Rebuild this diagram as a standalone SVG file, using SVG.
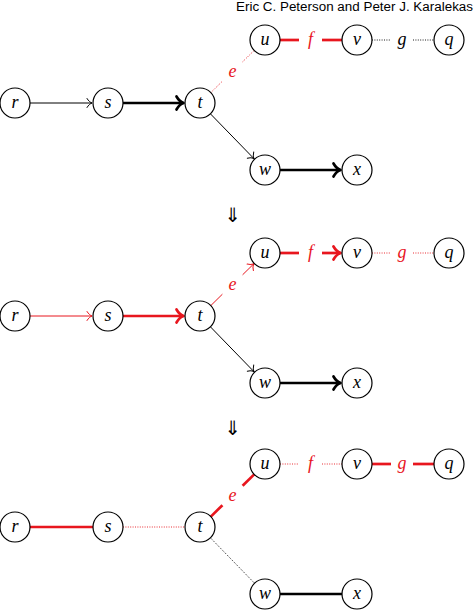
<svg xmlns="http://www.w3.org/2000/svg" width="474" height="611" viewBox="0 0 474 611">
<style>
.nd circle{fill:#fff;stroke:#000;stroke-width:1.2}
.lb{font-family:"Liberation Serif",serif;font-style:italic;font-size:18px;text-anchor:middle}
.el{font-family:"Liberation Serif",serif;font-style:italic;font-size:18px;text-anchor:middle}
.red{fill:#e8161e}
.blk{fill:#000}
.thinB{stroke:#000;stroke-width:1;fill:none}
.thickB{stroke:#000;stroke-width:2.7;fill:none}
.thinR{stroke:#e8161e;stroke-width:1;fill:none}
.thickR{stroke:#e8161e;stroke-width:2.7;fill:none}
.dotR{stroke:#e8161e;stroke-width:0.9;stroke-dasharray:1 1.4;fill:none}
.dotB{stroke:#000;stroke-width:0.9;stroke-dasharray:1 1.4;fill:none}
.dn{font-family:"DejaVu Sans",sans-serif;font-size:20px;text-anchor:middle;fill:#000}
</style>
<defs>
<marker id="aTB" markerUnits="userSpaceOnUse" orient="auto" overflow="visible" markerWidth="1" markerHeight="1" refX="0" refY="0"><path d="M -5,-4.5 C -3.5,-2 -1.5,-0.5 0,0 C -1.5,0.5 -3.5,2 -5,4.5" fill="none" stroke="#000" stroke-width="1" stroke-linecap="round"/></marker>
<marker id="aTR" markerUnits="userSpaceOnUse" orient="auto" overflow="visible" markerWidth="1" markerHeight="1" refX="0" refY="0"><path d="M -5,-4.5 C -3.5,-2 -1.5,-0.5 0,0 C -1.5,0.5 -3.5,2 -5,4.5" fill="none" stroke="#e8161e" stroke-width="1" stroke-linecap="round"/></marker>
<marker id="aKB" markerUnits="userSpaceOnUse" orient="auto" overflow="visible" markerWidth="1" markerHeight="1" refX="0" refY="0"><path d="M -7,-6.5 C -5,-3 -2,-0.7 0,0 C -2,0.7 -5,3 -7,6.5" fill="none" stroke="#000" stroke-width="2.7" stroke-linecap="round" stroke-linejoin="round"/></marker>
<marker id="aKR" markerUnits="userSpaceOnUse" orient="auto" overflow="visible" markerWidth="1" markerHeight="1" refX="0" refY="0"><path d="M -7,-6.5 C -5,-3 -2,-0.7 0,0 C -2,0.7 -5,3 -7,6.5" fill="none" stroke="#e8161e" stroke-width="2.7" stroke-linecap="round" stroke-linejoin="round"/></marker>
</defs>

<text x="473" y="11" font-family="Liberation Sans, sans-serif" font-size="12.5" text-anchor="end" textLength="237" lengthAdjust="spacingAndGlyphs">Eric C. Peterson and Peter J. Karalekas</text>

<text class="dn" x="233" y="222">⇓</text>
<text class="dn" x="233" y="435">⇓</text>

<g id="connectors">
<g id="p1-edges">
<line class="thinB" x1="30" y1="103" x2="92" y2="103" marker-end="url(#aTB)"/>
<line class="thickB" x1="123" y1="103" x2="183.5" y2="103" marker-end="url(#aKB)"/>
<line class="dotR" x1="210.8" y1="92.6" x2="222.4" y2="81.2"/>
<line class="dotR" x1="242.6" y1="61.8" x2="254.2" y2="50.4"/>
<text class="el red" x="232.5" y="77">e</text>
<line class="thickR" x1="280" y1="40" x2="299" y2="40"/>
<line class="thickR" x1="322" y1="40" x2="342" y2="40"/>
<text class="el red" x="310.5" y="45">f</text>
<line class="dotB" x1="372" y1="40" x2="391" y2="40"/>
<line class="dotB" x1="413" y1="40" x2="434" y2="40"/>
<text class="el blk" x="402" y="45">g</text>
<line class="thinB" x1="210.4" y1="113.8" x2="254" y2="158.7" marker-end="url(#aTB)"/>
<line class="thickB" x1="280" y1="170" x2="340.5" y2="170" marker-end="url(#aKB)"/>
</g>
<g id="p2-edges" transform="translate(0,213)">
<line class="thinR" x1="30" y1="103" x2="92" y2="103" marker-end="url(#aTR)"/>
<line class="thickR" x1="123" y1="103" x2="183.5" y2="103" marker-end="url(#aKR)"/>
<line class="thinR" x1="210.8" y1="92.6" x2="222.4" y2="81.2"/>
<line class="thinR" x1="242.6" y1="61.8" x2="253.8" y2="50.8" marker-end="url(#aTR)"/>
<text class="el red" x="232.5" y="77">e</text>
<line class="thickR" x1="280" y1="40" x2="299" y2="40"/>
<line class="thickR" x1="322" y1="40" x2="340.5" y2="40" marker-end="url(#aKR)"/>
<text class="el red" x="310.5" y="45">f</text>
<line class="dotR" x1="372" y1="40" x2="391" y2="40"/>
<line class="dotR" x1="413" y1="40" x2="434" y2="40"/>
<text class="el red" x="402" y="45">g</text>
<line class="thinB" x1="210.4" y1="113.8" x2="254" y2="158.7" marker-end="url(#aTB)"/>
<line class="thickB" x1="280" y1="170" x2="340.5" y2="170" marker-end="url(#aKB)"/>
</g>
<g id="p3-edges" transform="translate(0,424)">
<line class="thickR" x1="30" y1="103" x2="93" y2="103"/>
<line class="dotR" x1="123" y1="103" x2="185" y2="103"/>
<line class="thickR" x1="210.8" y1="92.6" x2="222.4" y2="81.2"/>
<line class="thickR" x1="242.6" y1="61.8" x2="254.2" y2="50.4"/>
<text class="el red" x="232.5" y="77">e</text>
<line class="dotR" x1="280" y1="40" x2="299" y2="40"/>
<line class="dotR" x1="322" y1="40" x2="342" y2="40"/>
<text class="el red" x="310.5" y="45">f</text>
<line class="thickR" x1="372" y1="40" x2="391" y2="40"/>
<line class="thickR" x1="413" y1="40" x2="434" y2="40"/>
<text class="el red" x="402" y="45">g</text>
<line class="dotB" x1="210.4" y1="113.8" x2="254.5" y2="159.2"/>
<line class="thickB" x1="280" y1="170" x2="342" y2="170"/>
</g>
</g>

<g id="p1-r" class="nd"><circle cx="15" cy="103" r="15"/><text class="lb" x="15" y="108">r</text></g>
<g id="p1-s" class="nd"><circle cx="108" cy="103" r="15"/><text class="lb" x="108" y="108">s</text></g>
<g id="p1-t" class="nd"><circle cx="200" cy="103" r="15"/><text class="lb" x="200" y="108">t</text></g>
<g id="p1-u" class="nd"><circle cx="265" cy="40" r="15"/><text class="lb" x="265" y="45">u</text></g>
<g id="p1-v" class="nd"><circle cx="357" cy="40" r="15"/><text class="lb" x="357" y="45">v</text></g>
<g id="p1-q" class="nd"><circle cx="449" cy="40" r="15"/><text class="lb" x="449" y="45">q</text></g>
<g id="p1-w" class="nd"><circle cx="265" cy="170" r="15"/><text class="lb" x="265" y="175">w</text></g>
<g id="p1-x" class="nd"><circle cx="357" cy="170" r="15"/><text class="lb" x="357" y="175">x</text></g>

<g id="p2-r" class="nd"><circle cx="15" cy="316" r="15"/><text class="lb" x="15" y="321">r</text></g>
<g id="p2-s" class="nd"><circle cx="108" cy="316" r="15"/><text class="lb" x="108" y="321">s</text></g>
<g id="p2-t" class="nd"><circle cx="200" cy="316" r="15"/><text class="lb" x="200" y="321">t</text></g>
<g id="p2-u" class="nd"><circle cx="265" cy="253" r="15"/><text class="lb" x="265" y="258">u</text></g>
<g id="p2-v" class="nd"><circle cx="357" cy="253" r="15"/><text class="lb" x="357" y="258">v</text></g>
<g id="p2-q" class="nd"><circle cx="449" cy="253" r="15"/><text class="lb" x="449" y="258">q</text></g>
<g id="p2-w" class="nd"><circle cx="265" cy="383" r="15"/><text class="lb" x="265" y="388">w</text></g>
<g id="p2-x" class="nd"><circle cx="357" cy="383" r="15"/><text class="lb" x="357" y="388">x</text></g>

<g id="p3-r" class="nd"><circle cx="15" cy="527" r="15"/><text class="lb" x="15" y="532">r</text></g>
<g id="p3-s" class="nd"><circle cx="108" cy="527" r="15"/><text class="lb" x="108" y="532">s</text></g>
<g id="p3-t" class="nd"><circle cx="200" cy="527" r="15"/><text class="lb" x="200" y="532">t</text></g>
<g id="p3-u" class="nd"><circle cx="265" cy="464" r="15"/><text class="lb" x="265" y="469">u</text></g>
<g id="p3-v" class="nd"><circle cx="357" cy="464" r="15"/><text class="lb" x="357" y="469">v</text></g>
<g id="p3-q" class="nd"><circle cx="449" cy="464" r="15"/><text class="lb" x="449" y="469">q</text></g>
<g id="p3-w" class="nd"><circle cx="265" cy="594" r="15"/><text class="lb" x="265" y="599">w</text></g>
<g id="p3-x" class="nd"><circle cx="357" cy="594" r="15"/><text class="lb" x="357" y="599">x</text></g>
</svg>
